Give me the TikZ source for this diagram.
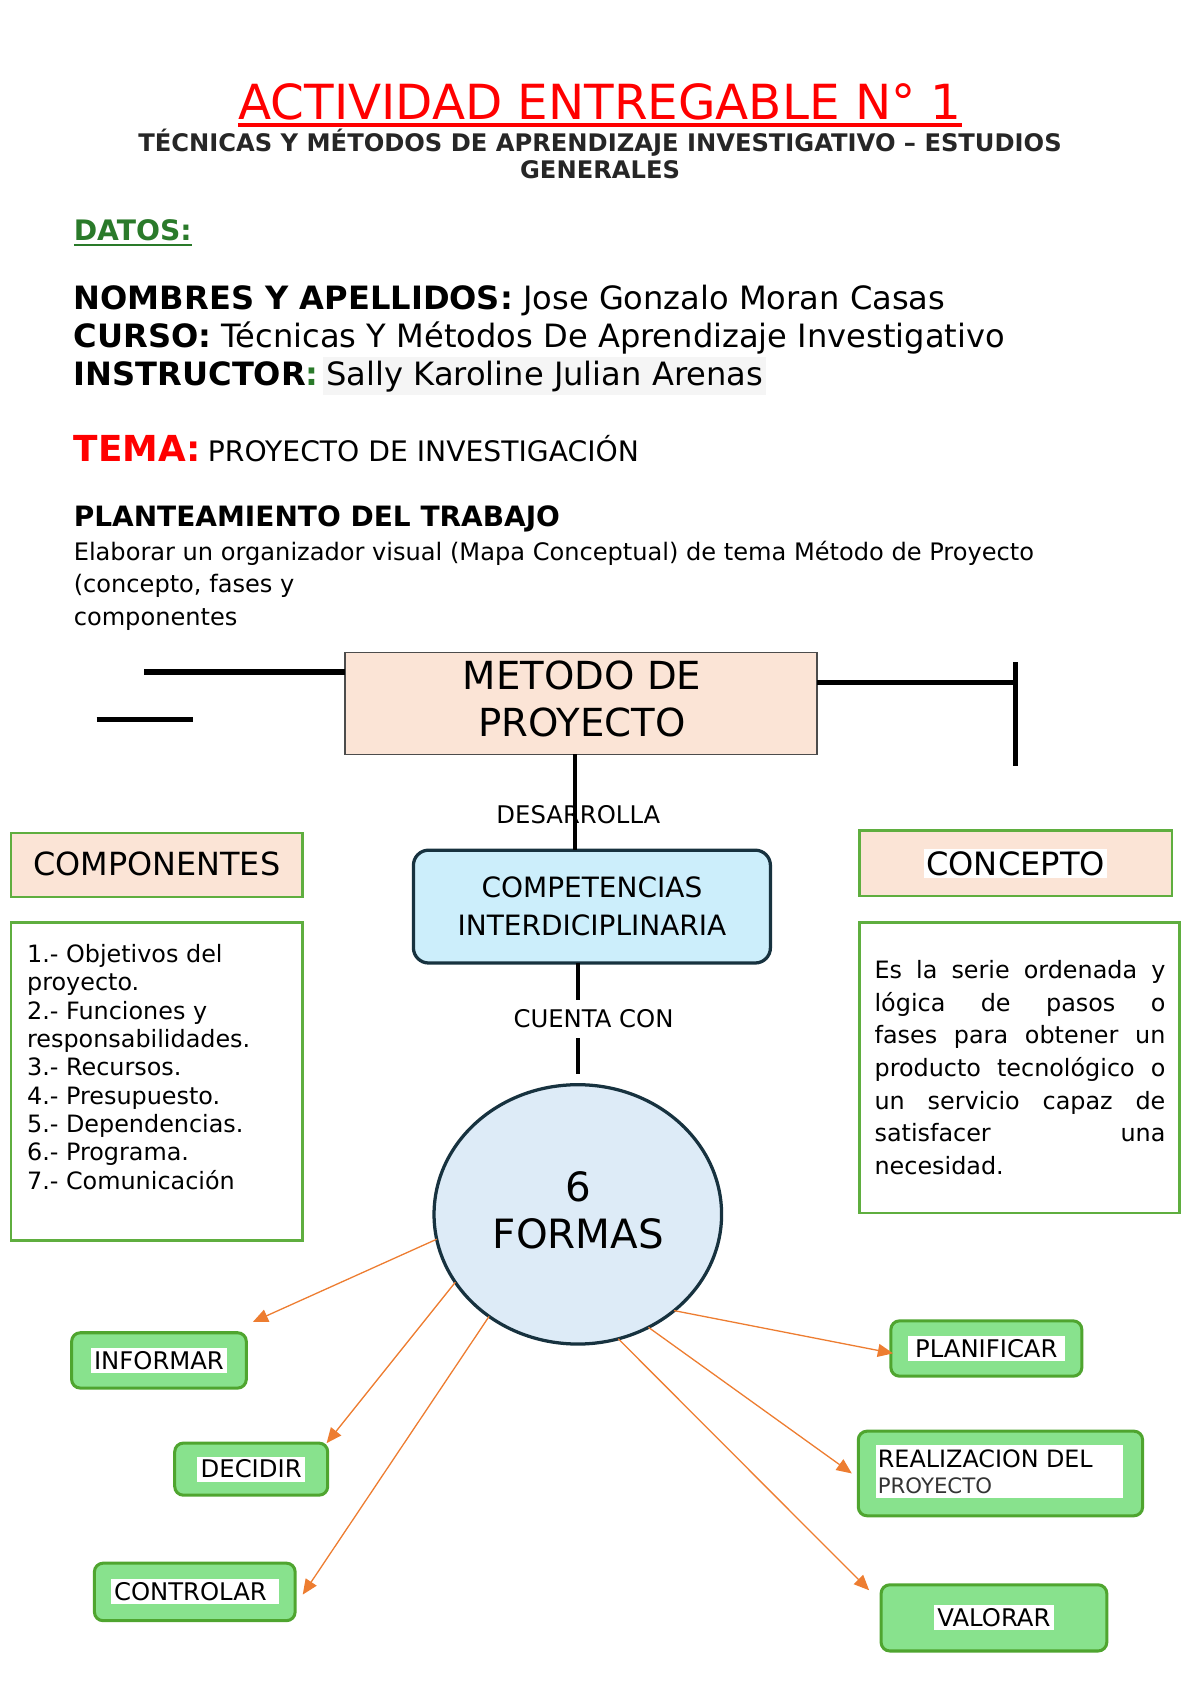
\documentclass[tikz,border=0pt]{standalone}
\usepackage{fontspec}
\setmainfont{DejaVu Sans}
\usetikzlibrary{shapes.geometric,arrows.meta}
\definecolor{peach}{HTML}{FBE4D6}
\definecolor{grnb}{HTML}{5FAE3F}
\definecolor{gfill}{HTML}{88E28D}
\definecolor{gbord}{HTML}{4FA52F}
\definecolor{lblue}{HTML}{CCEEFB}
\definecolor{dkb}{HTML}{17323F}
\definecolor{cfill}{HTML}{DDEBF7}
\definecolor{orng}{HTML}{ED7D31}
\definecolor{datos}{HTML}{2A7A2A}
\newcommand{\jl}[1]{\hbox to \linewidth{#1}}
\begin{document}
\begin{tikzpicture}[x=0.5pt,y=-0.5pt,
  every node/.style={inner sep=0pt, outer sep=0pt},
  hdr/.style={anchor=base west, font=\fontsize{14.8}{17}\selectfont},
  bar/.style={line width=2.5pt, black},
  peachbox/.style={draw=grnb, line width=1.2pt, fill=peach},
  whitebox/.style={draw=grnb, line width=1.2pt, fill=white},
  gbox/.style={draw=gbord, line width=1.4pt, fill=gfill, rounded corners=4pt},
  gtxt/.style={font=\fontsize{11.2}{13}\selectfont},
  lbl/.style={font=\fontsize{11.2}{13}\selectfont},
  arr/.style={orng, line width=0.6pt, -{Triangle[length=7pt,width=6pt]}}
]
\useasboundingbox (0,0) rectangle (1106,1563);
\begin{scope}[yscale=0.997]
% ---------- header ----------
\node[anchor=base, text=red, font=\fontsize{22.3}{26}\selectfont] (title) at (553,110) {ACTIVIDAD ENTREGABLE N° 1};
\draw[red, line width=1.8pt] ([yshift=-2.6pt]title.base west) -- ([yshift=-2.6pt]title.base east);
\node[anchor=base, text=black!85, font=\bfseries\fontsize{11.15}{12.5}\selectfont] (sub1) at (553,140) {TÉCNICAS Y MÉTODOS DE APRENDIZAJE INVESTIGATIVO – ESTUDIOS};
\node[anchor=base, text=black!85, font=\bfseries\fontsize{11.15}{12.5}\selectfont] (sub2) at (553,165) {GENERALES};

\node[anchor=base west, text=datos, font=\bfseries\fontsize{13}{15}\selectfont] (datos) at (68,222) {DATOS:};
\draw[datos, line width=1.1pt] ([yshift=-2.2pt]datos.base west) -- ([yshift=-2.2pt]datos.base east);

\node[hdr] (nom) at (68,286) {\textbf{NOMBRES Y APELLIDOS:} Jose Gonzalo Moran Casas};
\node[hdr] (cur) at (68,321) {\textbf{CURSO:} Técnicas Y Métodos De Aprendizaje Investigativo};
\node[hdr] (ins) at (68,356) {\textbf{INSTRUCTOR}\textcolor{datos}{\textbf{:}}\hspace{2pt}\setlength{\fboxsep}{1.5pt}\colorbox{black!4}{Sally Karoline Julian Arenas}};

\node[anchor=base west] (tema) at (68,427) {\textcolor{red}{\bfseries\fontsize{16.5}{19}\selectfont TEMA:} {\fontsize{13}{15}\selectfont PROYECTO DE INVESTIGACIÓN}};

\node[anchor=base west, font=\bfseries\fontsize{12.9}{15}\selectfont] (plan) at (68,487) {PLANTEAMIENTO DEL TRABAJO};
\node[anchor=base west, font=\fontsize{11.1}{13}\selectfont] (el1) at (68,518) {Elaborar un organizador visual (Mapa Conceptual) de tema Método de Proyecto};
\node[anchor=base west, font=\fontsize{11.1}{13}\selectfont] (el2) at (68,548) {(concepto, fases y};
\node[anchor=base west, font=\fontsize{11.1}{13}\selectfont] (el3) at (68,578) {componentes};

% ---------- diagram ----------
\node[draw=black!70, line width=0.6pt, fill=peach, minimum width=217.5pt, minimum height=47pt] (metodo) at (535.5,650) {};
\node[align=center, font=\fontsize{17.8}{21.5}\selectfont] (metodot) at (536.5,646) {METODO DE\\PROYECTO};

\coordinate (l1a) at (133,621);
\draw[bar] (l1a) -- (l1a -| metodo.west);
\coordinate (l2a) at (89,665);
\coordinate (l2b) at (178,665);
\draw[bar] (l2a) -- (l2b);
\coordinate (r1) at (936,631);
\coordinate (rt) at (936,612);
\coordinate (rb) at (936,708);
\draw[bar] (r1 -| metodo.east) -- (r1);
\draw[bar] (rt) -- (rb);

\node[draw=dkb, line width=1.5pt, fill=lblue, rounded corners=7pt, minimum width=164.5pt, minimum height=52pt,
      align=center, font=\fontsize{12.9}{17.5}\selectfont] (comp) at (545.5,838) {COMPETENCIAS\\INTERDICIPLINARIA};

\draw[line width=2pt] ([xshift=-2.75pt]metodo.south) -- ([xshift=-2.75pt]metodo.south |- comp.north);
\node[lbl] (desa) at (533,753) {DESARROLLA};

\node[ellipse, draw=dkb, line width=1.5pt, fill=cfill, minimum width=132.5pt, minimum height=119.5pt] (formas) at (532.5,1122.5) {};
\node[align=center, font=\fontsize{18.6}{21.5}\selectfont] (formast) at (533,1118.5) {6\\FORMAS};

\node[lbl, minimum height=17.5pt] (cuenta) at (547,942) {CUENTA CON};
\draw[line width=2pt] (comp.south -| formas.north) -- (cuenta.north -| formas.north);
\draw[line width=2pt, shorten >=5pt] (cuenta.south -| formas.north) -- (formas.north);

% left column
\node[peachbox, minimum width=134.5pt, minimum height=29.5pt, font=\fontsize{14.7}{16}\selectfont] (compo) at (144.5,799.5) {\raisebox{1pt}{COMPONENTES}};
\node[whitebox, minimum width=134.5pt, minimum height=146.5pt] (lista) at (144.5,999.5) {};
\node[anchor=north west, align=left, font=\fontsize{11}{13.05}\selectfont] (listat) at (25,873) {1.- Objetivos del\\proyecto.\\2.- Funciones y\\responsabilidades.\\3.- Recursos.\\4.- Presupuesto.\\5.- Dependencias.\\6.- Programa.\\7.- Comunicación};

% right column
\node[peachbox, minimum width=144pt, minimum height=30pt, font=\fontsize{14.8}{16}\selectfont] (conc) at (936,798) {\setlength{\fboxsep}{1pt}\raisebox{1pt}{\colorbox{white}{CONCEPTO}}};
\node[whitebox, minimum width=147.5pt, minimum height=134pt] (defin) at (939.5,987) {};
\node[anchor=north west, text width=134pt, font=\fontsize{11}{15}\selectfont] (defint) at (806,888) {%
\jl{Es\hfill la\hfill serie\hfill ordenada\hfill y}\par
\jl{lógica\hfill de\hfill pasos\hfill o}\par
\jl{fases\hfill para\hfill obtener\hfill un}\par
\jl{producto\hfill tecnológico\hfill o}\par
\jl{un\hfill servicio\hfill capaz\hfill de}\par
\jl{satisfacer\hfill una}\par
\jl{necesidad.\hfill}};

% green boxes
\node[gbox, minimum width=80.5pt, minimum height=25.5pt] (inf) at (146.5,1257.5) {\setlength{\fboxsep}{1.5pt}\raisebox{1pt}{\colorbox{white}{\fontsize{11.2}{13}\selectfont INFORMAR}}};
\node[gbox, minimum width=70.5pt, minimum height=24pt] (dec) at (231.5,1358) {\setlength{\fboxsep}{1.5pt}\colorbox{white}{\fontsize{11.2}{13}\selectfont DECIDIR}};
\node[gbox, minimum width=92.5pt, minimum height=26.5pt] (ctl) at (179.5,1471.5) {\setlength{\fboxsep}{1.5pt}\raisebox{1pt}{\colorbox{white}{\fontsize{11.2}{13}\selectfont CONTROLAR\hspace{4pt}}}};
\node[gbox, minimum width=88pt, minimum height=25.5pt] (pla) at (909,1246.5) {\setlength{\fboxsep}{1.5pt}\raisebox{1pt}{\colorbox{white}{\fontsize{11.2}{13}\selectfont\hspace{2pt}PLANIFICAR\hspace{2pt}}}};
\node[gbox, minimum width=131pt, minimum height=39pt] (rea) at (922,1362) {};
\node[fill=white, minimum width=114pt, minimum height=24.5pt, text width=112pt, align=left, inner sep=1pt] (reat) at (921,1360.5)
   {{\fontsize{11}{12}\selectfont REALIZACION DEL}\\{\fontsize{9.8}{11}\selectfont\color{black!80} PROYECTO}};
\node[gbox, minimum width=104pt, minimum height=30.5pt] (val) at (916,1495.5) {\setlength{\fboxsep}{1.5pt}\colorbox{white}{\fontsize{11.2}{13}\selectfont VALORAR}};

% arrows
\coordinate (eInf) at (233,1222);
\coordinate (eDec) at (301,1334);
\coordinate (eCtl) at (279,1474);
\coordinate (ePla) at (823,1251);
\coordinate (eRea) at (785,1362);
\coordinate (eVal) at (801,1470);
\draw[arr] (formas.190.6) -- (eInf);
\draw[arr] (formas.209.4) -- (eDec);
\draw[arr] (formas.229) -- (eCtl);
\draw[arr] (formas.315) -- (ePla);
\draw[arr] (formas.302.9) -- (eRea);
\draw[arr] (formas.288.4) -- (eVal);
\end{scope}
\end{tikzpicture}
\end{document}
